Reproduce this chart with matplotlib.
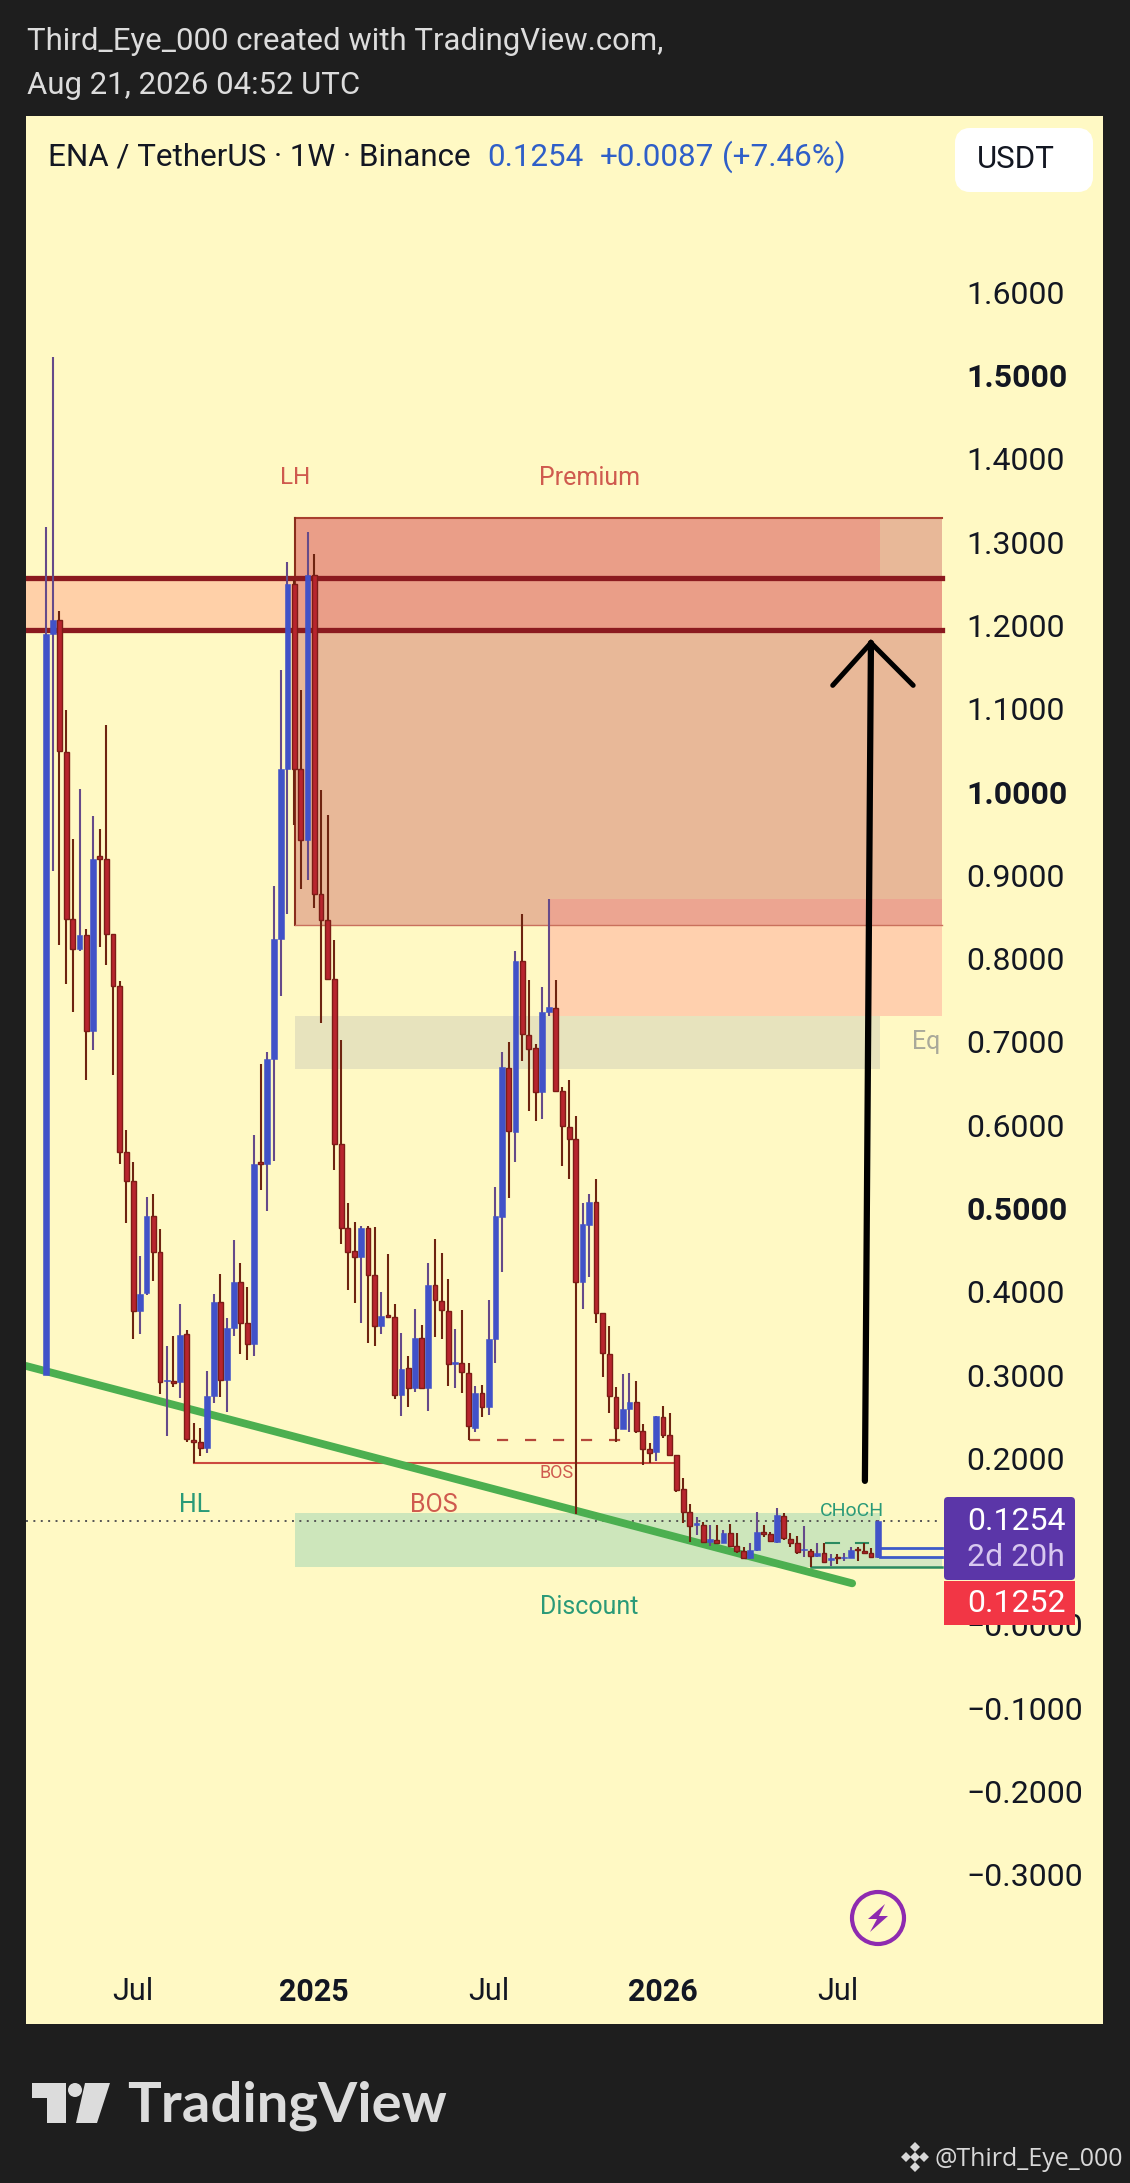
import matplotlib
matplotlib.use('Agg')
import matplotlib.pyplot as plt
from matplotlib.patches import Rectangle, FancyBboxPatch, Circle, Polygon

plt.rcParams['font.family'] = ['Roboto', 'DejaVu Sans']

# weekly candles
opens = [.300, 1.190, 1.206, 1.048, .847, .811, .828, .713, .923, .920, .830, .767, .568, .533, .377, .398, .491, .448, .293, .293,
         .292, .349, .222, .220, .212, .275, .388, .294, .356, .412, .362, .337, .556, .554, .680, .823, 1.027, 1.250, 1.027, .942,
         1.261, .877, .846, .775, .578, .476, .449, .442, .476, .420, .359, .372, .370, .276, .308, .285, .344, .285, .408, .389,
         .377, .313, .315, .302, .236, .278, .262, .343, .490, .669, .592, .797, .708, .693, .640, .736, .741, .641, .598, .583,
         .412, .480, .508, .374, .325, .274, .235, .259, .268, .233, .211, .208, .250, .228, .204, .163, .136, .120, .120, .100,
         .102, .099, .110, .095, .089, .080, .090, .112, .109, .100, .131, .103, .098, .090, .089, .083, .086, .078, .082, .081,
         .081, .091, .089, .086, .082]
highs = [1.318, 1.522, 1.217, 1.098, .943, 1.003, .835, .971, .955, 1.081, .830, .773, .594, .556, .443, .514, .517, .475, .335, .347,
         .385, .354, .242, .236, .305, .397, .421, .368, .462, .434, .406, .588, .673, .688, .887, 1.146, 1.276, 1.255, 1.122, 1.312,
         1.286, 1.002, .972, .822, .702, .507, .484, .479, .479, .478, .400, .445, .385, .350, .323, .379, .360, .435, .463, .446,
         .415, .355, .378, .314, .287, .288, .390, .526, .688, .700, .809, .854, .774, .698, .766, .872, .774, .646, .654, .611,
         .506, .517, .535, .374, .359, .286, .301, .302, .293, .241, .218, .251, .263, .254, .204, .176, .145, .130, .124, .120,
         .120, .114, .121, .110, .094, .098, .136, .120, .112, .140, .134, .110, .107, .119, .091, .098, .098, .085, .085, .086,
         .094, .094, .098, .093, .126]
lows = [.300, .905, .816, .769, .736, .809, .654, .690, .814, .792, .660, .553, .482, .343, .349, .396, .413, .277, .227, .286,
        .272, .220, .194, .203, .206, .266, .274, .256, .347, .325, .318, .323, .522, .497, .557, .755, .853, .960, .883, .894,
        .861, .723, .775, .546, .457, .402, .386, .362, .338, .335, .349, .368, .271, .251, .262, .280, .284, .257, .346, .343,
        .287, .284, .278, .222, .232, .250, .252, .314, .424, .512, .556, .677, .617, .605, .607, .731, .640, .551, .535, .133,
        .379, .418, .362, .298, .254, .220, .235, .232, .231, .192, .194, .197, .225, .204, .160, .122, .100, .108, .099, .095,
        .098, .098, .094, .087, .079, .079, .089, .106, .100, .099, .102, .094, .085, .082, .070, .082, .074, .071, .073, .077,
        .081, .077, .086, .081, .081]
closes = [1.190, 1.207, 1.049, .847, .811, .828, .713, .920, .920, .830, .767, .568, .533, .377, .397, .491, .448, .292, .294, .290,
          .348, .223, .220, .212, .275, .388, .294, .356, .412, .362, .337, .554, .554, .680, .823, 1.027, 1.250, 1.027, .942, 1.261,
          .877, .846, .775, .578, .476, .448, .442, .476, .420, .359, .371, .370, .276, .307, .285, .344, .285, .408, .390, .378,
          .313, .316, .304, .239, .278, .262, .343, .491, .670, .593, .797, .709, .692, .640, .736, .742, .641, .599, .583, .412,
          .481, .508, .374, .326, .275, .236, .259, .268, .233, .211, .207, .251, .228, .204, .162, .136, .119, .122, .100, .103,
          .099, .110, .095, .089, .080, .090, .112, .109, .101, .132, .104, .099, .088, .091, .083, .086, .076, .080, .081, .082,
          .090, .090, .086, .082, .1254]

price_ticks = [1.6, 1.5, 1.4, 1.3, 1.2, 1.1, 1.0, .9, .8, .7, .6, .5, .4, .3, .2, 0.0, -.1, -.2, -.3]
price_labels = ['1.6000', '1.5000', '1.4000', '1.3000', '1.2000', '1.1000', '1.0000', '0.9000', '0.8000', '0.7000',
                '0.6000', '0.5000', '0.4000', '0.3000', '0.2000', '−0.0000', '−0.1000', '−0.2000', '−0.3000']
bold_prices = ['1.5000', '1.0000', '0.5000']
time_ticks = [13, 40, 66, 92, 118]
time_labels = ['Jul', '2025', 'Jul', '2026', 'Jul']

BG = '#1e1e1e'
PANEL = '#fff9c4'
BLUE = '#4152c8'
BLUE_WICK = '#654a8a'
RED = '#b8252e'
RED_EDGE = '#7d1c16'
RED_WICK = '#6e2410'
TEAL = '#2a9a78'
SALMON = '#cf5a4e'

fig = plt.figure(figsize=(11.3, 21.83), dpi=100, facecolor=BG)
ax = fig.add_axes([26 / 1130, (2183 - 2024) / 2183, (1103 - 26) / 1130, (2024 - 116) / 2183], facecolor=PANEL)
ax.set_xlim(-2.982, 157.6)
ax.set_ylim(-0.479, 1.8115)
for s in ax.spines.values():
    s.set_visible(False)
ax.set_axisbelow(True)

right_edge = 133.6  # end of the chart pane, price scale starts here
zone_start = 37.1
zone_end = 124.3

# zones
ax.add_patch(Rectangle((zone_start, .840), right_edge - zone_start, 1.329 - .840, fc='#e8b898', ec='none', zorder=1))
ax.add_patch(Rectangle((zone_start, 1.257), zone_end - zone_start, 1.329 - 1.257, fc='#ea9e88', ec='none', zorder=1.1))
ax.add_patch(Rectangle((-3, 1.194), zone_start + 3, 1.257 - 1.194, fc='#ffd0a8', ec='none', zorder=1))
ax.add_patch(Rectangle((zone_start, 1.194), right_edge - zone_start, 1.257 - 1.194, fc='#ea9e88', ec='none', zorder=1.1))
ax.add_patch(Rectangle((75.1, .731), right_edge - 75.1, .840 - .731, fc='#ffd0ae', ec='none', zorder=1))
ax.add_patch(Rectangle((75.1, .840), right_edge - 75.1, .872 - .840, fc='#eca591', ec='none', zorder=1.1))
ax.add_patch(Rectangle((zone_start, .668), zone_end - zone_start, .731 - .668, fc='#e7e3bd', ec='none', zorder=1))
ax.add_patch(Rectangle((zone_start, .070), zone_end - zone_start, .134 - .070, fc='#cde6bb', ec='none', zorder=1))
ax.add_patch(Rectangle((zone_end, .070), right_edge - zone_end, .0816 - .070, fc='#d6e8c4', ec='none', zorder=1))
ax.plot([zone_start, right_edge], [1.329, 1.329], color='#a8402f', lw=1.5, zorder=1.2)
ax.plot([zone_start, zone_start], [.840, 1.329], color='#8a2e1c', lw=1.5, zorder=1.2)
ax.plot([zone_start, right_edge], [.840, .840], color='#c9705c', lw=1, zorder=1.2)

# horizontal levels
ax.plot([-3, right_edge], [1.257, 1.257], color='#8b1a1f', lw=3.8, zorder=1.5)
ax.plot([-3, right_edge], [1.194, 1.194], color='#8b1a1f', lw=3.8, zorder=1.5)
ax.plot([22, 93.5], [.195, .195], color='#cc4a3f', lw=1.5, zorder=1.6)
ax.plot([63, 86.6], [.222, .222], color='#b5483a', lw=1.6, ls=(0, (5, 7.6)), zorder=1.6)
ax.plot([-3, right_edge], [.1254, .1254], color='#555555', lw=1.4, ls=(0, (1, 2.8)), zorder=1.6)
ax.plot([124.3, right_edge], [.0925, .0925], color='#3d5bc8', lw=2, zorder=1.6)
ax.plot([124.3, right_edge], [.0816, .0816], color='#3d5bc8', lw=2, zorder=1.6)
ax.plot([114, right_edge], [.070, .070], color='#2a8a60', lw=1.8, zorder=1.6)
ax.plot([116.3, 118.2], [.099, .099], color='#2a8a60', lw=1.5, zorder=1.6)
ax.plot([120.8, 122.6], [.099, .099], color='#2a8a60', lw=1.5, zorder=1.6)

# trend line
ax.plot([-3, 120.2], [.311, .050], color='#4caf50', lw=5.6, solid_capstyle='round', zorder=1.7)

# candles
for i in range(len(closes)):
    up = closes[i] >= opens[i]
    ax.plot([i, i], [lows[i], highs[i]], color=BLUE_WICK if up else RED_WICK, lw=1.5, solid_capstyle='butt', zorder=2)
    bottom = min(opens[i], closes[i])
    height = abs(closes[i] - opens[i])
    if up:
        ax.bar(i, height, bottom=bottom, width=.85, color=BLUE, edgecolor=BLUE, linewidth=.4, zorder=3)
    else:
        ax.bar(i, height, bottom=bottom, width=.72, color=RED, edgecolor=RED_EDGE, linewidth=1, zorder=3)

# hand drawn arrow
ax.plot([122.1, 123], [.173, 1.179], color='black', lw=4.5, solid_capstyle='round', zorder=4)
ax.plot([117.3, 123, 129.3], [1.128, 1.179, 1.128], color='black', lw=3.6, solid_capstyle='round', solid_joinstyle='miter', zorder=4)

# labels on the chart
ax.text(37.1, 1.377, 'LH', color=SALMON, fontsize=17.5, ha='center', va='center', zorder=5)
ax.text(81.1, 1.377, 'Premium', color=SALMON, fontsize=18, ha='center', va='center', zorder=5)
ax.text(22.2, .144, 'HL', color=TEAL, fontsize=18, ha='center', va='center', zorder=5)
ax.text(57.8, .144, 'BOS', color=SALMON, fontsize=18, ha='center', va='center', zorder=5)
ax.text(76.2, .183, 'BOS', color=SALMON, fontsize=13, ha='center', va='center', zorder=5)
ax.text(81, .021, 'Discount', color=TEAL, fontsize=18, ha='center', va='center', zorder=5)
ax.text(120.2, .137, 'CHoCH', color=TEAL, fontsize=14, ha='center', va='center', zorder=5)
eq = ax.text(129.1, .7, 'Eq', color='#a9a99a', fontsize=18, ha='left', va='center', zorder=5)
eq.set_clip_path(Rectangle((0, -1), right_edge, 3, transform=ax.transData))

# price scale and time scale, both drawn inside the panel
ax.yaxis.tick_right()
ax.set_yticks(price_ticks)
ax.set_yticklabels(price_labels)
ax.tick_params(axis='y', length=0, pad=-98.6, labelsize=23, labelcolor='#131722')
for lab in ax.get_yticklabels():
    if lab.get_text() in bold_prices:
        lab.set_fontweight('bold')
ax.set_xticks(time_ticks)
ax.set_xticklabels(time_labels)
ax.tick_params(axis='x', length=0, pad=-34, labelsize=22, labelcolor='#131722')
for lab in ax.get_xticklabels():
    if lab.get_text().isdigit():
        lab.set_fontweight('bold')

# overlay in pixels for the chrome round the chart
top = fig.add_axes([0, 0, 1, 1], facecolor='none')
top.set_xlim(0, 1130)
top.set_ylim(2183, 0)
top.axis('off')

top.text(27, 41, 'Third_Eye_000 created with TradingView.com,', color='#dcdcdc', fontsize=22.4, va='center')
top.text(27, 86, 'Aug 21, 2026 04:52 UTC', color='#dcdcdc', fontsize=22.4, va='center')
top.text(48, 157, 'ENA / TetherUS · 1W · Binance', color='#131722', fontsize=22.6, va='center')
top.text(487, 157, '0.1254', color='#2f5fc8', fontsize=22.6, va='center')
top.text(600, 157, '+0.0087', color='#2f5fc8', fontsize=22.6, va='center')
top.text(722, 157, '(+7.46%)', color='#2f5fc8', fontsize=22.6, va='center')

top.add_patch(FancyBboxPatch((962, 135), 124, 50, boxstyle='round,pad=0,rounding_size=8', fc='white', ec='white', lw=14 * .72))
top.text(1016, 159, 'USDT', color='#131722', fontsize=22.5, ha='center', va='center')

# last price boxes
top.add_patch(FancyBboxPatch((944, 1497), 131, 83, boxstyle='round,pad=0,rounding_size=4', fc='#5b36a8', ec='none'))
top.add_patch(Rectangle((944, 1581), 131, 44, fc='#f23645', ec='none'))
top.text(967, 1522, '0.1254', color='white', fontsize=23, va='center')
top.text(967, 1558, '2d 20h', color='#d8c8f0', fontsize=23, va='center')
top.text(967, 1603, '0.1252', color='white', fontsize=23, va='center')

# lightning badge
top.add_patch(Circle((878, 1918), 26, fc=PANEL, ec='#8e2bb0', lw=3))
top.add_patch(Polygon([(885, 1904), (868, 1919), (877, 1919), (870, 1932), (888, 1916), (879, 1916)], fc='#8e2bb0', ec='none'))

# TradingView logo
top.add_patch(Polygon([(32, 2083), (66, 2083), (66, 2123), (47, 2123), (47, 2098), (32, 2098)], fc='#dcdcdc', ec='none'))
top.add_patch(Circle((75, 2090), 7, fc='#dcdcdc', ec='none'))
top.add_patch(Polygon([(85, 2083), (110, 2083), (97, 2123), (76, 2123)], fc='#dcdcdc', ec='none'))
top.text(127, 2106, 'TradingView', color='#dcdcdc', fontsize=40.5, fontweight='bold', va='center', family=['Lato', 'DejaVu Sans'])

# signature bottom right
for dx, dy in [(0, -10), (0, 10), (-9, 0), (9, 0), (0, 0)]:
    top.add_patch(Polygon([(915 + dx, 2157 + dy - 5), (915 + dx + 5, 2157 + dy), (915 + dx, 2157 + dy + 5), (915 + dx - 5, 2157 + dy)],
                          fc='#d8d8d8', ec='none'))
top.text(935, 2159, '@Third_Eye_000', color='#d8d8d8', fontsize=18, va='center', family=['Open Sans', 'DejaVu Sans'])

fig.savefig('out.png', dpi=100, facecolor=BG)
